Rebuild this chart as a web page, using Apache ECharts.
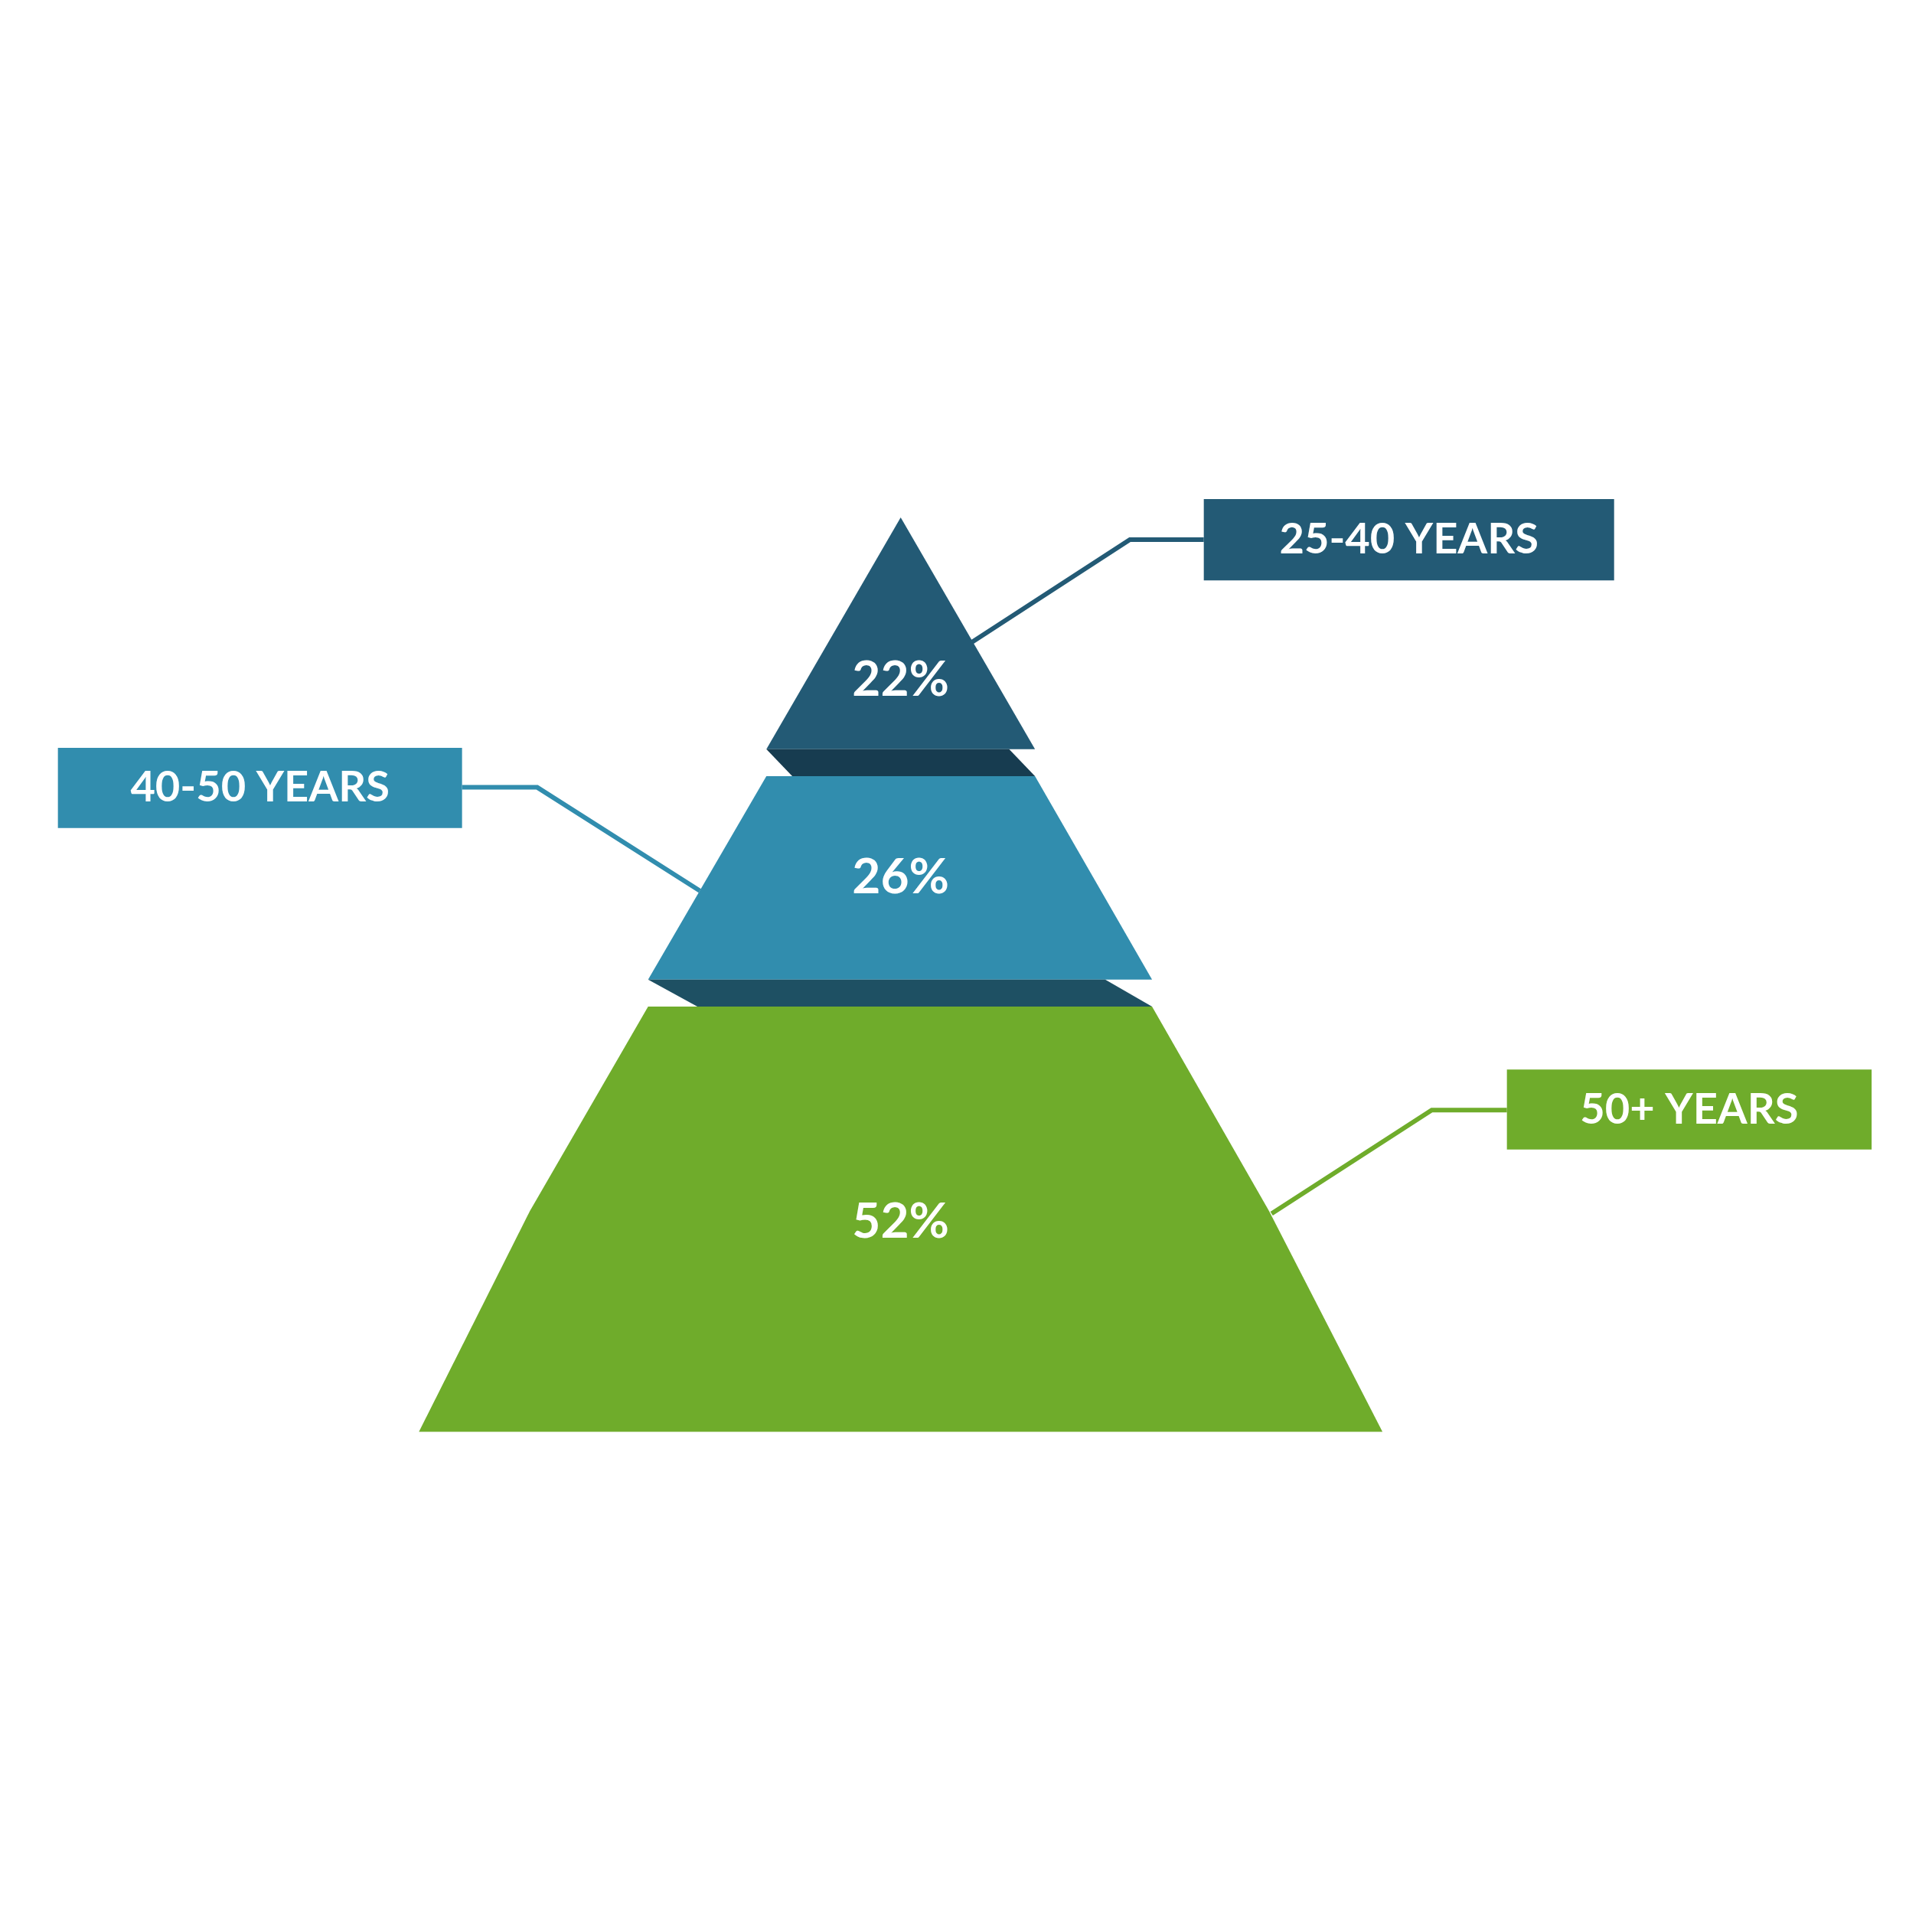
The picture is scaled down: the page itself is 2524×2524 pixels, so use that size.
<!DOCTYPE html>
<html>
<head>
<meta charset="utf-8">
<script src="https://cdn.jsdelivr.net/npm/echarts@6/dist/echarts.min.js"></script>
<style>html,body{margin:0;padding:0;background:#fff}#main{width:2524px;height:2524px}</style>
</head>
<body>
<div id="main"></div>
<script>
var categories = ['25-40 YEARS', '40-50 YEARS', '50+ YEARS'];
var shares = [22, 26, 52];
var colors = ['#235a75', '#318dae', '#6fac2b'];
var bandColors = ['#173c50', '#1e5063'];

var chart = echarts.init(document.getElementById('main'));

// geometry in reference units (0..1568)
var apexX = 731, apexY = 420;
var segTop = [420, 630, 817], segBot = [608, 795, 1162];
var kinkY = 983;
function halfW(y) {
    if (y <= kinkY) return (y - apexY) * 0.531 + (y < 700 ? 0.05 * (y - apexY) : 0);
    return (kinkY - apexY) * 0.531 + (y - kinkY) * 0.514;
}
function hw(i, y) {
    var t = [[109, 109], [109, 204.5], [204.5, 391]];
    var a = segTop[i], b = segBot[i];
    if (i < 2) return t[i][0] + (t[i][1] - t[i][0]) * (y - a) / (b - a) * (i === 0 ? 1 : 1);
    return 0;
}
var boxes = [
    {x: 977, y: 405, w: 333, h: 66, line: [[789, 521], [917, 438], [977, 438]]},
    {x: 47, y: 607, w: 328, h: 65, line: [[375, 639], [436, 639], [568, 723]]},
    {x: 1223, y: 868, w: 296, h: 65, line: [[1032, 985], [1162, 901], [1223, 901]]}
];

function renderItem(params, api) {
    var i = params.dataIndex;
    var c = function (p) { return api.coord(p); };
    var children = [];
    var pts;
    if (i === 0) {
        pts = [[apexX, apexY], [apexX + 109, 608], [apexX - 109, 608]];
    } else if (i === 1) {
        pts = [[apexX - 109, 630], [apexX + 109, 630], [935, 795], [526, 795]];
    } else {
        pts = [[526, 817], [935, 817], [1030, 983], [1122, 1162], [340, 1162], [430, 983]];
    }
    children.push({type: 'polygon', shape: {points: pts.map(c)}, style: {fill: colors[i]}});
    if (i === 0) {
        children.push({type: 'polygon', shape: {points: [[622, 608], [819, 608], [840, 630], [643, 630]].map(c)}, style: {fill: bandColors[0]}});
    } else if (i === 1) {
        children.push({type: 'polygon', shape: {points: [[526, 795], [897, 795], [935, 817], [566, 817]].map(c)}, style: {fill: bandColors[1]}});
    }
    var cy = [552, 712, 992][i];
    var ct = c([731, cy]);
    children.push({type: 'text', x: ct[0], y: ct[1], style: {text: api.value(1) + '%', fill: '#fff', font: 'bold 64px Lato, "Open Sans", sans-serif', align: 'center', verticalAlign: 'middle'}});
    var b = boxes[i];
    var p0 = c([b.x, b.y]), p1 = c([b.x + b.w, b.y + b.h]);
    children.push({type: 'polyline', shape: {points: b.line.map(c)}, style: {stroke: colors[i], lineWidth: 6, fill: null}});
    children.push({type: 'rect', shape: {x: p0[0], y: p0[1], width: p1[0] - p0[0], height: p1[1] - p0[1]}, style: {fill: colors[i]}});
    children.push({type: 'text', x: (p0[0] + p1[0]) / 2, y: (p0[1] + p1[1]) / 2, style: {text: categories[i], fill: '#fff', font: 'bold 56px Lato, "Open Sans", sans-serif', align: 'center', verticalAlign: 'middle'}});
    return {type: 'group', children: children};
}

var option = {
    backgroundColor: '#fff',
    animation: false,
    grid: {left: 0, right: 0, top: 0, bottom: 0},
    xAxis: {type: 'value', min: 0, max: 1568, show: false},
    yAxis: {type: 'value', min: 0, max: 1568, inverse: true, show: false},
    series: [{
        type: 'custom',
        renderItem: renderItem,
        data: categories.map(function (name, i) { return [i, shares[i]]; })
    }]
};
chart.setOption(option);
</script>
</body>
</html>
